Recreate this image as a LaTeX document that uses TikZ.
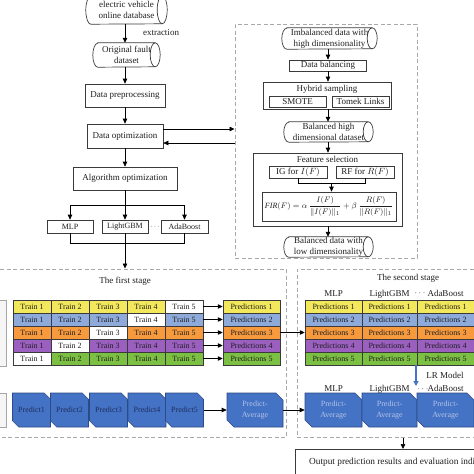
\documentclass[tikz,border=0pt]{standalone}
\usepackage{fontspec}
\setmainfont{Liberation Serif}
\usetikzlibrary{shapes.geometric,shapes.misc,arrows.meta,calc}
\definecolor{txt}{HTML}{1E1E1E}
\definecolor{lin}{HTML}{3A3A3A}
\definecolor{dsh}{HTML}{A8A8A8}
\definecolor{cyel}{HTML}{F3E85B}
\definecolor{cblu}{HTML}{8EAADB}
\definecolor{cora}{HTML}{F79A3E}
\definecolor{cpur}{HTML}{9B5FC0}
\definecolor{cgrn}{HTML}{7CC043}
\definecolor{pfill}{HTML}{4472C4}
\definecolor{pbd}{HTML}{2C4A86}
\definecolor{ptxt}{HTML}{1F2F5F}
\definecolor{patxt}{HTML}{B4C2E8}
\definecolor{blarrc}{HTML}{4472C4}
% name, x, y, width, height, text
\newcommand{\cylnd}[6]{%
  \node[cylbox, minimum width=#4pt, minimum height=#5pt] (#1) at (#2,#3) {#6};
  \draw[cylline] ([xshift=5pt]#1.north west) -- ([xshift=-5pt]#1.north east)
     arc[start angle=90, end angle=-90, x radius=5pt, y radius=#5pt/2]
     -- ([xshift=5pt]#1.south west)
     arc[start angle=270, end angle=90, x radius=5pt, y radius=#5pt/2] -- cycle;
  \draw[cylline] ([xshift=-5pt]#1.north east) arc[start angle=90, end angle=270, x radius=5pt, y radius=#5pt/2];
}
\begin{document}
\begin{tikzpicture}[x=1pt,y=-1pt,
  font=\fontsize{9}{11}\selectfont,
  every node/.style={text=txt},
  box/.style={draw=lin, line width=0.7pt, fill=white, inner sep=0pt, align=center},
  cylbox/.style={inner sep=0pt, align=center},
  cylline/.style={draw=lin, line width=0.7pt},
  cell/.style={draw=lin, line width=0.5pt, inner sep=0pt, minimum height=13pt, minimum width=38pt, font=\fontsize{8}{9}\selectfont},
  pbox/.style={chamfered rectangle, chamfered rectangle corners={north east,south west}, chamfered rectangle xsep=3.5pt, chamfered rectangle ysep=3.5pt, draw=pbd, fill=pfill, line width=0.6pt, inner sep=0pt, minimum height=34pt, align=center, font=\fontsize{8}{11}\selectfont, text=ptxt},
  dbox/.style={draw=dsh, line width=1pt, dash pattern=on 4pt off 2.5pt, inner sep=0pt},
  arr/.style={draw=black, line width=0.7pt, -{Triangle[length=5pt,width=4.5pt]}},
  ln/.style={draw=black, line width=0.7pt},
  lbl/.style={inner sep=0pt},
]
\useasboundingbox (0,0) rectangle (474,474);
% ---------- dashed frames ----------
\node[dbox, minimum width=182pt, minimum height=234pt] (rbox) at (326,141) {};
\node[dbox, minimum width=291pt, minimum height=168pt] (st1) at (140.5,353) {};
\node[dbox, minimum width=183pt, minimum height=168pt] (st2) at (388.5,353) {};
% ---------- left column ----------
\cylnd{db}{126.5}{10}{81}{28}{electric vehicle\\online database}
\cylnd{ofd}{126.5}{55}{67}{24}{Original fault\\dataset}
\node[box, minimum width=80pt, minimum height=23pt] (prep) at (125,95.5) {Data preprocessing};
\node[box, minimum width=76pt, minimum height=24pt] (opt) at (125,136) {Data optimization};
\node[box, minimum width=104pt, minimum height=23pt] (alg) at (125,178.5) {Algorithm optimization};
\node[box, minimum width=46pt, minimum height=13pt, font=\fontsize{8}{9}\selectfont] (mlp) at (70,226.5) {MLP};
\node[box, minimum width=46pt, minimum height=13pt, font=\fontsize{8}{9}\selectfont] (lgbm) at (125,226.5) {LightGBM};
\node[box, minimum width=47pt, minimum height=13pt, font=\fontsize{8}{9}\selectfont] (ada) at (184.5,226.5) {AdaBoost};
\node[lbl, font=\fontsize{7}{8}\selectfont] (dots1) at (155,226.5) {$\cdots$};
\node[lbl] (extr) at (161,33) {extraction};
\draw[arr] (db.south -| prep.north) -- (prep.north |- ofd.north);
\draw[arr] (ofd.south -| prep.north) -- (prep.north);
\draw[arr] (prep) -- (opt);
\draw[arr] (opt) -- (alg);
\draw[arr] ([yshift=7pt]opt.east) -- ([yshift=7pt]opt.east -| rbox.west);
\draw[arr] ([yshift=-7pt]opt.east -| rbox.west) -- ([yshift=-7pt]opt.east);
\coordinate (j1) at (125,205);
\draw[ln] (alg.south) -- (j1);
\draw[arr] (j1) -| (mlp.north);
\draw[arr] (j1) -| (ada.north);
\draw[arr] (j1) -- (lgbm.north);
\draw[ln] (mlp.south) -- ++(0,10) -| (ada.south);
\draw[arr] (lgbm.south) -- (lgbm.south |- st1.north);
% ---------- right dashed box ----------
\cylnd{imb}{329.5}{38.5}{95}{21}{Imbalanced data with\\high dimensionality}
\node[box, minimum width=77pt, minimum height=11pt] (bal) at (328,65.5) {Data balancing};
\node[box, minimum width=128pt, minimum height=27pt] (hyb) at (327,95.5) {};
\node[lbl] (hybt) at (327,89) {Hybrid sampling};
\node[box, minimum width=57pt, minimum height=11pt] (smote) at (297.5,101.5) {SMOTE};
\node[box, minimum width=57pt, minimum height=11pt] (tomek) at (360.5,101.5) {Tomek Links};
\cylnd{bhd}{328.5}{132}{89}{20}{Balanced high\\dimensional dataset}
\node[box, minimum width=149pt, minimum height=73pt] (fs) at (327.5,189.5) {};
\node[lbl] (fst) at (327.5,159) {Feature selection};
\node[box, minimum width=58pt, minimum height=12pt] (ig) at (298,172) {IG for $I(F)$};
\node[box, minimum width=58pt, minimum height=12pt] (rf) at (365,172) {RF for $R(F)$};
\node[box, minimum width=134pt, minimum height=29pt, font=\fontsize{8}{9}\selectfont] (fir) at (329,206.5) {$\mathit{FIR}(F)=\alpha\,\displaystyle\frac{I(F)}{\|I(F)\|_1}+\beta\,\frac{R(F)}{\|R(F)\|_1}$};
\cylnd{bld}{328.5}{247}{89}{20}{Balanced data with\\low dimensionality}
\draw[arr] (imb.south -| bal.north) -- (bal.north);
\draw[arr] (bal.south) -- (bal.south |- hyb.north);
\draw[arr] (hyb.south -| bal.south) -- (bal.south |- bhd.north);
\draw[arr] (bhd.south -| bal.south) -- (bal.south |- fs.north);
\coordinate (j3) at ($(ig.south)!0.5!(rf.south)+(0,5)$);
\draw[ln] (ig.south) -- ++(0,5) -| (rf.south);
\draw[arr] (j3) -- (j3 |- fir.north);
\draw[arr] (fs.south -| bal.south) -- (bal.south |- bld.north);
% ---------- first stage ----------
\node[lbl] (st1t) at (125,281) {The first stage};
\foreach \r/\col in {1/cyel,2/cblu,3/cora,4/cpur,5/cgrn} {
  \foreach \c in {1,...,5} {
    \pgfmathtruncatemacro{\w}{6-\r}
    \ifnum\c=\w \def\f{white}\else \def\f{\col}\fi
    \node[cell, fill=\f] (t\r\c) at ({13+38*(\c-0.5)}, {293.5+13*\r}) {Train \c};
  }
  \node[cell, fill=\col, minimum width=57pt] (p\r) at (251.5, {293.5+13*\r}) {Predictions \r};
  \draw[arr] (t\r5.east) -- (p\r.west);
}
\node[draw=gray!70, fill=gray!8, line width=0.6pt, minimum width=10pt, minimum height=66pt, inner sep=0pt] (lb1) at (1,333) {};
\node[draw=gray!70, fill=gray!8, line width=0.6pt, minimum width=10pt, minimum height=34pt, inner sep=0pt] (lb2) at (1,410) {};
\foreach \c/\xx in {1/31.5,2/69.5,3/108.5,4/147,5/184.5} {
  \node[pbox, minimum width=38pt] (pr\c) at (\xx,410) {Predict\c};
}
\node[pbox, minimum width=56pt, text=patxt] (pa) at (255,410) {Predict-\\Average};
\draw[arr] (pr5.east) -- (pa.west);
% ---------- second stage ----------
\node[lbl] (st2t) at (408,278) {The second stage};
\foreach \c/\xx/\ww/\nm in {1/333.5/57/MLP,2/389.5/55/LightGBM,3/445.5/57/AdaBoost} {
  \node[lbl, anchor=base] (ht\c) at (\xx,296) {\nm};
  \foreach \r/\col in {1/cyel,2/cblu,3/cora,4/cpur,5/cgrn} {
    \node[cell, fill=\col, minimum width=\ww pt] (q\r\c) at (\xx, {293.5+13*\r}) {Predictions \r};
  }
  \node[lbl, anchor=base] (hb\c) at (\xx,391.5) {\nm};
  \node[pbox, minimum width=\ww pt, text=patxt] (qa\c) at (\xx,410) {Predict-\\Average};
}
\node[lbl] (dots2) at (420,293) {$\cdots$};
\node[lbl] (dots3) at (423,389) {$\cdots$};
\draw[arr] (p3.east) -- (q31.west);
\draw[arr] (pa.east) -- (qa1.west);
\node[lbl] (lrm) at (445,375) {LR Model};
\coordinate (lrs) at (416,365);
\draw[draw=blarrc, line width=1.4pt, -{Triangle[length=5pt,width=5pt]}] (lrs) -- (416,386);
% ---------- output ----------
\node[box, anchor=north west, minimum width=190pt, minimum height=35pt] (out) at (295,449) {};
\node[lbl, anchor=west, font=\fontsize{9.3}{11}\selectfont] (outt) at (309,462) {Output prediction results and evaluation indicators};
\draw[arr] (st2.south -| 403,0) -- (403,449);
\end{tikzpicture}
\end{document}
